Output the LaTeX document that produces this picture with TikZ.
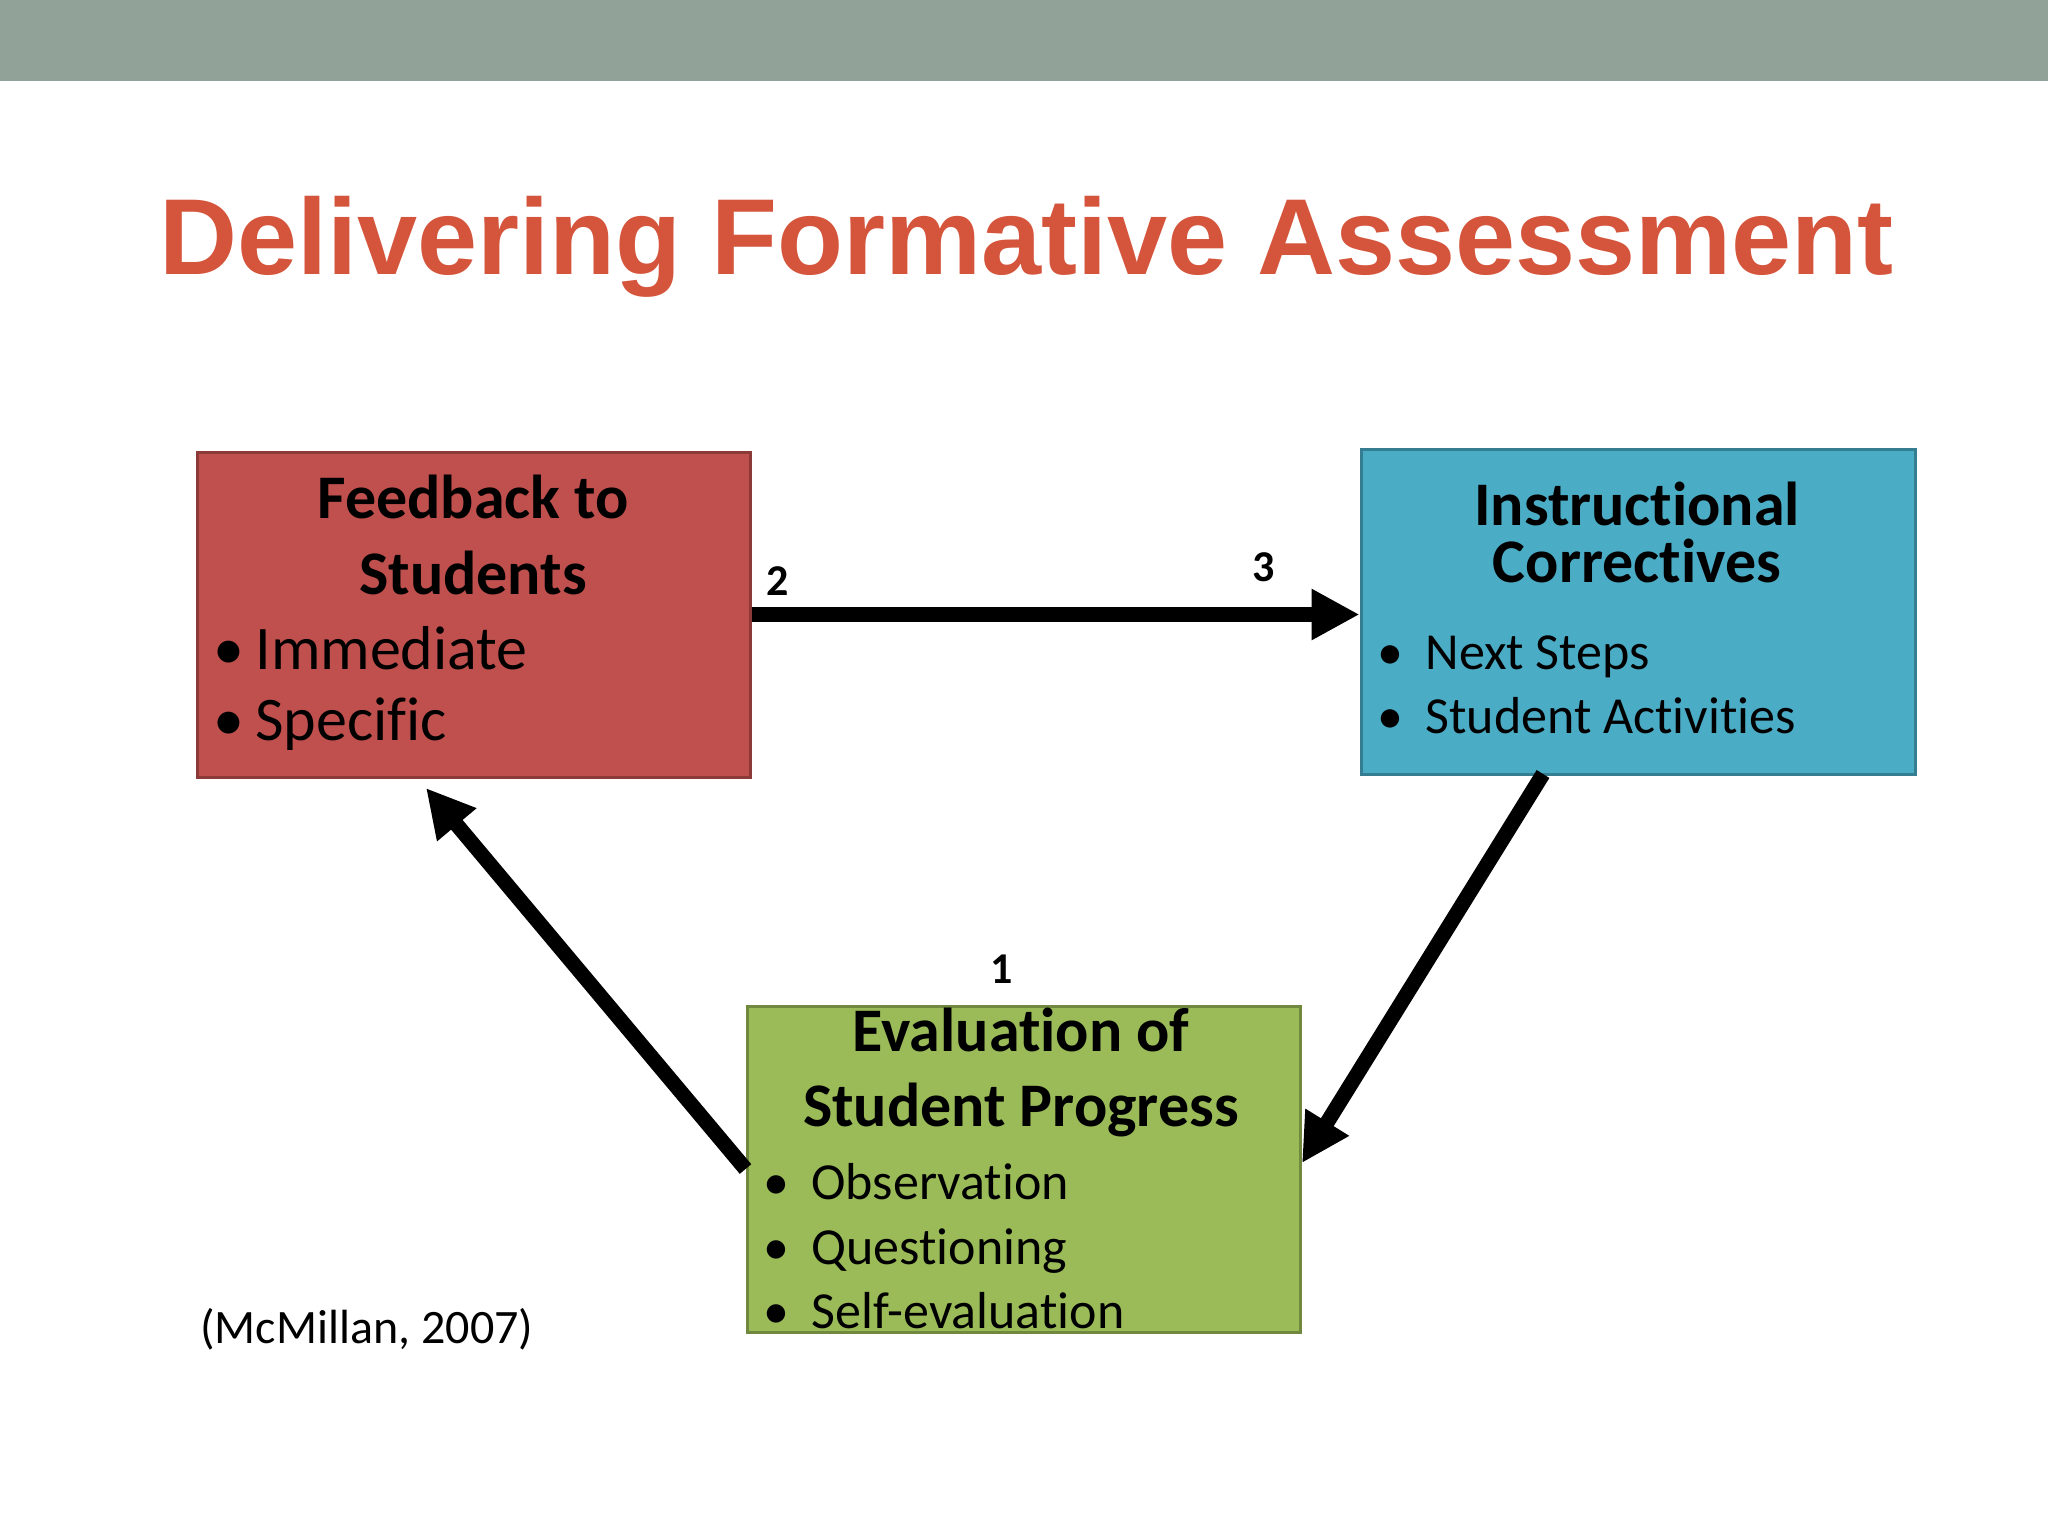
\documentclass[tikz,border=0pt]{standalone}
\usepackage{fontspec}
\setmainfont{Carlito}[Ligatures={NoCommon}]
\newfontfamily\titlefont{Liberation Sans}
\usetikzlibrary{arrows.meta}
\definecolor{barc}{HTML}{91A399}
\definecolor{titlec}{HTML}{D5553C}
\definecolor{redf}{HTML}{C0504D}
\definecolor{redd}{HTML}{8C3A37}
\definecolor{bluef}{HTML}{4BACC6}
\definecolor{blued}{HTML}{357D91}
\definecolor{greenf}{HTML}{9BBB59}
\definecolor{greend}{HTML}{71893F}
\newcommand\bitem[2]{\makebox[#1][l]{•}#2}
\tikzset{
  box/.style={rectangle, line width=1.5pt, inner sep=0pt},
  hd/.style={inner sep=0pt, anchor=base, font=\fontsize{31}{31}\selectfont\bfseries},
  bigitem/.style={inner sep=0pt, anchor=base west, font=\fontsize{31}{31}\selectfont},
  smitem/.style={inner sep=0pt, anchor=base west, font=\fontsize{26}{26}\selectfont},
  num/.style={inner sep=0pt, font=\fontsize{22}{22}\selectfont\bfseries},
  arr/.style={line width=7.5pt, -{Triangle[length=24pt,width=24pt]}}
}
\begin{document}
\begin{tikzpicture}[x=0.5pt,y=-0.5pt]
\useasboundingbox (0,0) rectangle (2048,1536);
\fill[white] (0,0) rectangle (2048,1536);
\fill[barc] (0,0) rectangle (2048,81);
\node[inner sep=0pt, anchor=base west, text=titlec, font=\fontsize{54}{54}\selectfont\titlefont\bfseries] (title) at (159,274) {Delivering Formative Assessment};

% boxes
\node[box, fill=redf, draw=redd, minimum width=276.5pt, minimum height=162.5pt] (red) at (473.5,614.5) {};
\node[box, fill=bluef, draw=blued, minimum width=277pt, minimum height=162.5pt] (blue) at (1638,612) {};
\node[box, fill=greenf, draw=greend, minimum width=276.5pt, minimum height=163pt] (green) at (1023.5,1169) {};

% red text
\node[hd] (rh1) at (473,518) {Feedback to};
\node[hd] (rh2) at (473,594) {Students};
\node[bigitem] (rb1) at (213,669) {\bitem{21pt}{Immediate}};
\node[bigitem] (rb2) at (213,740) {\bitem{21pt}{Specific}};

% blue text
\node[hd] (bh1) at (1637,525) {Instructional};
\node[hd] (bh2) at (1637,582) {Correctives};
\node[smitem] (bb1) at (1377,669) {\bitem{24pt}{Next Steps}};
\node[smitem] (bb2) at (1377,733) {\bitem{24pt}{Student Activities}};

% green text
\node[hd] (gh1) at (1021,1051) {Evaluation of};
\node[hd] (gh2) at (1021,1126) {Student Progress};
\node[smitem] (gb1) at (763,1199) {\bitem{24pt}{Observation}};
\node[smitem] (gb2) at (763,1264) {\bitem{24pt}{Questioning}};
\node[smitem] (gb3) at (763,1328) {\bitem{24pt}{Self-evaluation}};

% numbers
\node[num] (n2) at (778,581) {2};
\node[num] (n3) at (1264,567) {3};
\node[num] (n1) at (1002,969) {1};

% citation
\node[inner sep=0pt, anchor=base west, font=\fontsize{24}{24}\selectfont] (cite) at (200,1343) {(McMillan, 2007)};

% connectors
\coordinate (ltip) at (426,788);
\coordinate (rtail) at (1543,774);
\coordinate (rtip) at (1302,1163);
\draw[arr] (red.east) -- (red.east -| blue.west);
\draw[arr] (rtail) -- (rtip);
\draw[arr] (green.west) -- (ltip);
\end{tikzpicture}
\end{document}
